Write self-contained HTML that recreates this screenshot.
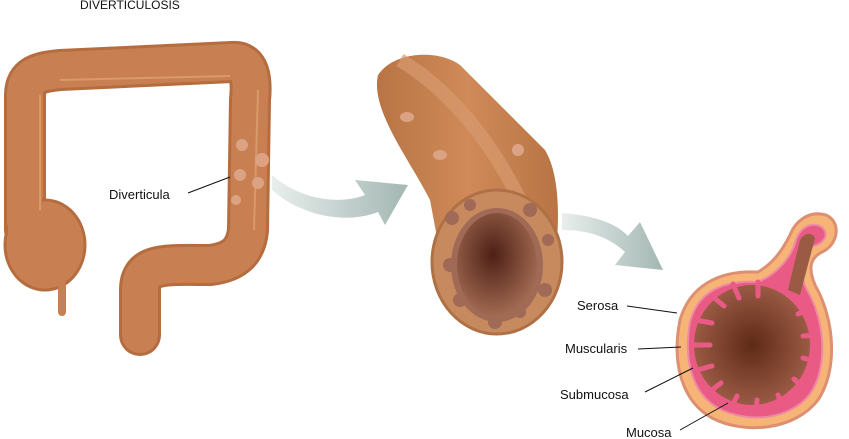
<!DOCTYPE html>
<html><head><style>
html,body{margin:0;padding:0;background:#fff;}
svg{display:block;}
text{font-family:"Liberation Sans",sans-serif;fill:#111;}
</style></head><body>
<svg width="849" height="439" viewBox="0 0 849 439" xmlns="http://www.w3.org/2000/svg">
<defs>
<radialGradient id="lum" cx="0.5" cy="0.5" r="0.5">
<stop offset="0" stop-color="#5e2a16"/><stop offset="1" stop-color="#9a5a44"/></radialGradient>
<radialGradient id="lum2" cx="0.45" cy="0.4" r="0.6">
<stop offset="0" stop-color="#4d2015"/><stop offset="1" stop-color="#a26a52"/></radialGradient>
<linearGradient id="arr" x1="0" x2="1"><stop offset="0" stop-color="#e8eeec"/><stop offset="1" stop-color="#a3b7b3"/></linearGradient>
<linearGradient id="tube" x1="0" y1="0" x2="1" y2="0"><stop offset="0" stop-color="#b87444"/><stop offset="0.5" stop-color="#d08a5a"/><stop offset="1" stop-color="#b87444"/></linearGradient>
</defs>
<text x="80" y="9" font-size="12">DIVERTICULOSIS</text>
<!-- colon -->
<g fill="none" stroke-linejoin="round" stroke-linecap="round">
<path d="M25 230 L25 95 C25 75 40 72 60 70 L232 62 C250 60 252 80 250 100 L248 230 C246 250 236 262 210 265 C165 265 140 262 140 290 L140 335" stroke="#b56c3e" stroke-width="42"/>
<path d="M25 230 L25 95 C25 75 40 72 60 70 L232 62 C250 60 252 80 250 100 L248 230 C246 250 236 262 210 265 C165 265 140 262 140 290 L140 335" stroke="#c88052" stroke-width="36"/>
</g>
<ellipse cx="45" cy="245" rx="40" ry="45" fill="#c88052" stroke="#b56c3e" stroke-width="3"/>
<rect x="8" y="180" width="34" height="70" fill="#c88052"/>
<path d="M62 285 L62 312" stroke="#c88052" stroke-width="8" stroke-linecap="round"/>
<path d="M40 210 L40 95 M60 80 L230 76 M258 90 L254 230" fill="none" stroke="#d9996c" stroke-width="2"/>
<ellipse cx="242" cy="145" rx="6" ry="6" fill="#dba383"/>
<ellipse cx="262" cy="160" rx="7" ry="7" fill="#dba383"/>
<ellipse cx="240" cy="175" rx="6" ry="6" fill="#dba383"/>
<ellipse cx="258" cy="183" rx="6" ry="6" fill="#dba383"/>
<ellipse cx="236" cy="200" rx="5" ry="5" fill="#dba383"/>
<text x="109" y="199" font-size="13">Diverticula</text>
<line x1="188" y1="193" x2="230" y2="177" stroke="#111" stroke-width="1"/>
<!-- arrow 1 -->
<path d="M272 175 C300 200 340 205 365 195 L355 180 L408 185 L385 225 L378 212 C345 225 300 215 272 190 Z" fill="url(#arr)"/>
<!-- tube -->
<path d="M378 75 C395 50 440 50 460 65 L545 150 C560 175 560 220 555 260 L445 280 L430 200 C410 160 370 110 378 75 Z" fill="url(#tube)"/>
<path d="M400 60 C450 90 490 140 520 200" stroke="#d99a6e" stroke-width="14" fill="none" opacity="0.7"/>
<ellipse cx="407" cy="117" rx="7" ry="5" fill="#dba383"/>
<ellipse cx="440" cy="155" rx="7" ry="5" fill="#dba383"/>
<ellipse cx="518" cy="150" rx="6" ry="6" fill="#dba383"/>
<ellipse cx="497" cy="262" rx="65" ry="72" fill="#c78a5f" stroke="#b07045" stroke-width="3"/>
<ellipse cx="497" cy="265" rx="46" ry="57" fill="#a06a56"/>
<ellipse cx="497" cy="265" rx="40" ry="52" fill="url(#lum2)"/>
<g fill="#a06a56">
<circle cx="452" cy="218" r="7"/><circle cx="470" cy="205" r="6"/><circle cx="530" cy="210" r="7"/>
<circle cx="548" cy="240" r="6"/><circle cx="450" cy="265" r="7"/><circle cx="460" cy="300" r="7"/>
<circle cx="545" cy="290" r="7"/><circle cx="495" cy="322" r="7"/><circle cx="520" cy="312" r="6"/>
</g>
<!-- arrow 2 -->
<path d="M562 213 C590 215 615 222 628 236 L640 222 L663 270 L615 265 L625 252 C610 238 590 230 562 230 Z" fill="url(#arr)"/>
<!-- cross section -->
<path d="M758 272 C770 265 780 255 790 235 C795 222 808 210 826 215 C842 222 838 245 822 252 C810 258 808 268 815 285 C835 320 838 370 818 400 C795 430 745 435 712 418 C680 400 672 360 680 320 C690 285 720 270 758 272 Z" fill="#f6b477" stroke="#dd8f72" stroke-width="3"/>
<path d="M758 282 C772 276 790 262 796 240 C800 228 810 222 820 226 C830 232 826 242 814 246 C800 252 798 270 806 288 C826 322 828 368 810 394 C790 420 748 424 718 408 C690 392 684 356 690 322 C698 292 722 280 758 282 Z" fill="#e95b85" stroke="#ef8aa3" stroke-width="2"/>
<ellipse cx="752" cy="345" rx="58" ry="60" fill="url(#lum)"/>
<path d="M788 290 L800 240 C805 232 812 232 815 238 L800 295 Z" fill="#9a5a44"/>
<g stroke="#e95b85" stroke-width="5" stroke-linecap="round">
<line x1="695" y1="320" x2="712" y2="323"/><line x1="693" y1="345" x2="710" y2="345"/>
<line x1="697" y1="370" x2="712" y2="366"/><line x1="708" y1="393" x2="721" y2="383"/>
<line x1="730" y1="410" x2="737" y2="396"/><line x1="756" y1="414" x2="757" y2="400"/>
<line x1="784" y1="409" x2="778" y2="395"/><line x1="806" y1="390" x2="794" y2="379"/>
<line x1="818" y1="362" x2="803" y2="358"/><line x1="818" y1="335" x2="803" y2="336"/>
<line x1="812" y1="308" x2="798" y2="314"/><line x1="712" y1="296" x2="724" y2="306"/>
<line x1="733" y1="284" x2="739" y2="298"/><line x1="758" y1="282" x2="758" y2="296"/>
</g>
<text x="577" y="310" font-size="13">Serosa</text>
<line x1="627" y1="306" x2="677" y2="313" stroke="#111"/>
<text x="565" y="353" font-size="13">Muscularis</text>
<line x1="638" y1="349" x2="681" y2="347" stroke="#111"/>
<text x="560" y="399" font-size="13">Submucosa</text>
<line x1="645" y1="392" x2="693" y2="368" stroke="#111"/>
<text x="626" y="437" font-size="13">Mucosa</text>
<line x1="680" y1="430" x2="728" y2="403" stroke="#111"/>
</svg>
</body></html>
